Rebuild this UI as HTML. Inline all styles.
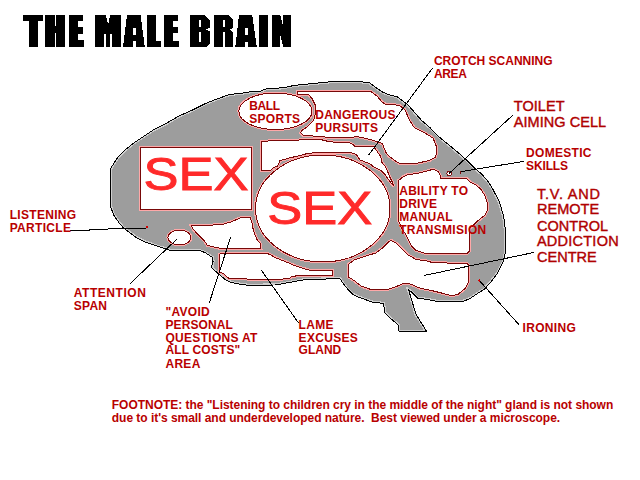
<!DOCTYPE html>
<html><head><meta charset="utf-8">
<style>
html,body{margin:0;padding:0;background:#fff;width:640px;height:480px;overflow:hidden}
svg{position:absolute;left:0;top:0}
path,rect,ellipse,circle,polyline{shape-rendering:crispEdges}
.l{font-family:"Liberation Sans",sans-serif;font-weight:bold;font-size:12px;fill:#b80000;letter-spacing:0.3px}
.fn{font-family:"Liberation Sans",sans-serif;font-weight:bold;font-size:12px;fill:#b80000;letter-spacing:-0.03px}
.m{font-family:"Liberation Sans",sans-serif;font-size:14.5px;fill:#b00000;stroke:#b00000;stroke-width:0.4;letter-spacing:0.05px}
.sex{font-family:"Liberation Sans",sans-serif;font-size:46px;fill:#ff2a2a;stroke:#ff2a2a;stroke-width:0.9}
.rg{fill:#fff;stroke:#b81818;stroke-width:1.2}
.ln{stroke:#000;stroke-width:1;fill:none}
</style></head><body>
<svg width="640" height="480" viewBox="0 0 640 480">
<!-- title -->
<g fill="#000" fill-rule="evenodd">
<path d="M23,15H42.75V21H37.7V47H29.25V21H23Z"/>
<path d="M44.75,15H54.6V26.3H55.7V15H64.7V47H55.7V33H54.6V47H44.75Z"/>
<path d="M69.2,15H83.2V20.7H77.6V26.9H82.7V33.6H77.6V40.4H83.8V47H69.2Z"/>
<path d="M95.2,15H105.9L108.1,24.8L110,15H120.9V47H111.9V33.8H110.4V42.8H110V47H106.1V42.8H105.5V33.8H104V47H95.2Z"/>
<path d="M127,15H140.6L144.8,47H136.4V41H132.7V47H123ZM132.7,27.8H136V34.8H132.7Z"/>
<path d="M147,15H156.1V40.9H161V47H147Z"/>
<path d="M164,15H177.9V20.6H172.6V27H177.5V32.6H172.6V40.9H179V47H164Z"/>
<path d="M190.1,15H204.4L210,20.25V27.4L205.9,29.6L210,31.5V43.5L206.25,47H190.1ZM198.75,19.9H201V26.6H198.75ZM198.75,32.25H201V42H198.75Z"/>
<path d="M214,15H228.25L232.75,18.75V28.1L230.5,29.5L232.75,31.9V47H224.9V32.25H223V47H214ZM223,20.25H224.9V26.6H223Z"/>
<path d="M239,15H252.2L256.8,47H247.5V41.9H244.7V47H235.3ZM244.7,27.8H247.5V34.8H244.7Z"/>
<path d="M259.2,15H268.1V47H259.2Z"/>
<path d="M272.3,15H280.3L283.1,26.5V15H291V47H283.1L280,33.5V47H272.3Z"/>
</g>
<!-- brain outer -->
<defs><path id="bp" d="
M110.5,206.7 L110.5,168.75 L114.6,162.2 L118.3,156.7 L125,150 L133.3,143.3 L143.3,136.7 L153.3,130 L165,124.2 L173.3,119.2 L180,115.6 L192.5,110 L205,103.75 L217.5,98.75 L230,94.4 L242.5,93.1 L250,91.9 L260,91.25 L266.25,88.75 L283.1,87.8 L294.4,85.4 L316.9,83.1 L331.9,81.6 L360,81.6 L369.4,82.75 L375,86.9 L382.9,92.2 L389.4,94.8 L397.1,96.7 L402.3,100.6 L407.5,104.5 L413.9,111.6 L421.7,120.6 L429.4,127.1 L440,137.7 L450,145.8 L460,154.2 L468.3,161.7 L475,168.3 L481.7,174.2 L488.3,181.7 L493.3,190 L499.6,202.5 L503.75,217 L505.8,233.75 L505.8,250.4 L503.75,260.8 L497.5,273.3 L490,283 L484,289.5 L479.4,292.3 L470,298.6 L462.2,301.7 L440,302 L426.8,299.4 L417.4,298 L410.6,291.25 L408.6,289.9 L416,314.25 L426.8,331.8 L399.1,331.8 L398.4,325.1 L390.3,318.3 L384.9,312.9 L383.5,303.4 L372.2,302 L357,296.6 L352.5,294 L346.25,287.5 L342.5,282.5 L340,278.75 L306.25,279.4 L292.5,281.9 L275,285 L247.5,285.25 L237.5,283.75 L231.25,282.5 L225,279.4 L221.25,276.25 L216.25,271.9 L211.9,268.1 L211.9,265 L213.1,261.25 L212.5,257.5 L205,252.5 L200,250.8 L171.25,250.6 L167.5,249.4 L157.5,246.25 L145,241.9 L136.25,237.5 L126.25,230 L123.3,227.8 L119,222.7 L113.9,215.4 Z"/><clipPath id="bclip"><use href="#bp"/></clipPath></defs>
<use href="#bp" fill="#9d9d9d"/>
<use href="#bp" fill="none" stroke="#cfcfcf" stroke-width="3.2" clip-path="url(#bclip)"/>
<use href="#bp" fill="none" stroke="#000" stroke-width="1"/>
<defs><g id="regs">
<rect x="140.5" y="147.5" width="111" height="62"/>
<ellipse cx="275.4" cy="111.25" rx="36.6" ry="18.25"/>
<path d="M297.4,91.9 L370.3,91.2 L376.9,95.9 L382.5,102.5 L385.3,104 L399.3,105.3 L405,110 L409.6,120.3 L414.3,127.8 L423.7,132.4 L433,138 L436.8,147.4 L435.8,156.8 L429.3,160.5 L416.2,163.4 L400,163.75 L395,160.6 L390,156.9 L386.25,153.1 L384.4,148.75 L382.5,143.75 L376.25,141.25 L367.5,138.75 L358.75,136.9 L330.6,137.5 L317,136.2 L303.5,135.5 L300.8,132.8 L301.5,130.7 L307.6,126.7 L313.7,120.6 L315.7,112.5 L315,104.4 L312.3,99 L308.3,94.2 L297.4,94.2 Z"/>
<path d="M261.9,141.25 L277.5,140.6 L308.75,139.75 L322.5,140 L330,141.9 L348.75,142.5 L353.75,145 L355,146.9 L373.75,146.9 L376.25,150 L378.1,153.1 L380.6,156.25 L381.9,162.5 L385,166.25 L387.5,171.25 L390,177.5 L392.5,182.5 L393.75,186.25 L388.75,180 L385,174.4 L381.25,170.6 L373.75,166.9 L370,163.75 L360,160 L356.25,154.4 L350,152.5 L330,152.5 L308.75,153.1 L300,155.6 L291.25,157.5 L280,160.6 L277.5,166.25 L273.75,167.5 L270,170.6 L261.9,170.6 Z"/>
<ellipse cx="322.75" cy="208.5" rx="67.25" ry="53.5"/>
<ellipse cx="179.4" cy="237.5" rx="11.4" ry="7.5"/>
<path d="M191.3,225.8 L221.7,224.7 L231.7,221.7 L240,218 L250,217.5 L251.7,221.7 L253.3,230 L256.7,239.2 L260.8,244.2 L261,248.3 L220,248.3 L207.5,245.5 L205,241.7 L198.3,235 L193.3,229.2 Z"/>
<path d="M219.4,254.4 L222.5,253.1 L265,253.1 L270,254.4 L275,257.5 L287.5,262.5 L296.25,266.25 L308.75,270 L332.5,270.6 L332.5,275.6 L297.5,275.6 L291.25,276.9 L288.75,278.75 L275,279.4 L229.4,278.75 L226.9,276.9 L223.75,273.75 L219.4,271.9 Z"/>
<path d="M398.3,180.8 L403.3,176.7 L406.7,175 L421.7,172.5 L433.3,169.2 L438.3,171.7 L440,175 L440.8,178.5 L455,178.5 L466.7,178.5 L470.8,182.5 L475.8,185 L480.8,189.2 L485,195.8 L487.5,203.3 L487.5,210 L485,215 L476.7,221.7 L470,228.3 L469,231.25 L469,251.6 L467.5,253.1 L424.4,253.1 L416,250.3 L411.7,246.1 L406.1,234.8 L401.7,228.3 L398.3,220 Z"/>
<path d="M348.4,264.3 L354.1,260.1 L368.1,255.2 L375.9,253.1 L382.2,248.2 L387.8,242.5 L391.3,240.4 L396.25,243.25 L401.9,248.9 L407.5,254.5 L416,259.4 L430,261.5 L430.9,262.7 L466.9,263.4 L468.4,265 L468.4,282.2 L465.3,288.4 L457.5,294.7 L451.25,295.5 L441.9,293.1 L429.4,290 L420.2,288.25 L410.3,284 L403.3,283.3 L399.1,285.4 L389.2,289 L369.5,289 L361.1,286.1 L354.1,280.5 L348.4,277 Z"/>
</g></defs>
<use href="#regs" fill="#fff" stroke="#ffa8a8" stroke-width="3"/>
<use href="#regs" fill="#fff" stroke="none"/>
<use href="#regs" fill="none" stroke="#780808" stroke-width="1"/>
<!-- SEX rect -->
<text class="sex" x="143.5" y="189.6" transform="translate(143.5 0) scale(1.14 1) translate(-143.5 0)">SEX</text>
<!-- ball sports -->
<!-- dangerous + crotch blob -->
<!-- strip above circle -->
<!-- SEX circle -->
<text class="sex" x="267.25" y="223.75" transform="translate(267.25 0) scale(1.14 1) translate(-267.25 0)">SEX</text>
<!-- attention oval -->
<!-- avoid region -->
<!-- lame region -->
<!-- ability region -->
<!-- TV region -->
<!-- toilet circle, domestic marker -->
<circle cx="449.2" cy="173.3" r="2.3" fill="#fff" stroke="#801010" stroke-width="1"/>
<path d="M460.2,171.25H462.2V172.25H461.2V173.6H460.2Z" fill="#780808"/>
<!-- leader lines -->
<polyline class="ln" points="70,230.5 89,230.5 89,229.5 147,228"/>
<circle cx="147" cy="227" r="1.2" fill="#d00000"/>
<polyline class="ln" points="130,283.75 177,239"/>
<polyline class="ln" points="209.4,302.5 230.8,236.7"/>
<polyline class="ln" points="298.4,322.8 261.25,270"/>
<polyline class="ln" points="432.5,68 368.75,155"/>
<polyline class="ln" points="513,115 449.2,173.3"/>
<polyline class="ln" points="524.4,161.25 460.8,171.7"/>
<polyline class="ln" points="533.75,252.5 424,275.5"/>
<polyline class="ln" points="519,324.7 479.25,280.5"/>
<circle cx="479.25" cy="280.5" r="1.2" fill="#d00000"/>
<!-- labels -->
<text class="l" style="letter-spacing:-0.4px" x="249.2" y="109.5">BALL</text>
<text class="l" x="249.2" y="122.5">SPORTS</text>
<text class="l" x="315.2" y="118.75">DANGEROUS</text>
<text class="l" x="315.2" y="132">PURSUITS</text>
<text class="l" x="433.9" y="65" style="letter-spacing:0">CROTCH SCANNING</text>
<text class="l" x="433.9" y="78.1" style="letter-spacing:-0.3px">AREA</text>
<text class="m" x="513.75" y="111.25">TOILET</text>
<text class="m" x="513.75" y="126.9">AIMING CELL</text>
<text class="l" x="526.1" y="157.2">DOMESTIC</text>
<text class="l" style="letter-spacing:-0.15px" x="526.1" y="170">SKILLS</text>
<text class="l" x="399.2" y="195">ABILITY TO</text>
<text class="l" x="399.2" y="207.5">DRIVE</text>
<text class="l" x="399.2" y="220.5">MANUAL</text>
<text class="l" x="399.2" y="233.75">TRANSMISION</text>
<text class="m" x="536.9" y="198.75" style="letter-spacing:0.8px">T.V. AND</text>
<text class="m" x="536.9" y="214.4">REMOTE</text>
<text class="m" x="536.9" y="230.6">CONTROL</text>
<text class="m" x="536.9" y="246.25" style="letter-spacing:0.25px">ADDICTION</text>
<text class="m" x="536.9" y="261.9">CENTRE</text>
<text class="l" x="9.7" y="218.75">LISTENING</text>
<text class="l" x="9.7" y="231.75">PARTICLE</text>
<text class="l" style="letter-spacing:0.55px" x="73.7" y="297">ATTENTION</text>
<text class="l" x="73.7" y="310">SPAN</text>
<text class="l" x="165.45" y="315.6">"AVOID</text>
<text class="l" style="letter-spacing:0.1px" x="165.45" y="328.75">PERSONAL</text>
<text class="l" x="165.45" y="341.9">QUESTIONS AT</text>
<text class="l" style="letter-spacing:0.15px" x="165.45" y="354.4">ALL COSTS"</text>
<text class="l" x="165.45" y="367.5">AREA</text>
<text class="l" x="298.6" y="328.75">LAME</text>
<text class="l" x="298.6" y="341.9">EXCUSES</text>
<text class="l" style="letter-spacing:0px" x="298.6" y="354.4">GLAND</text>
<text class="l" x="522.6" y="331.9">IRONING</text>
<text class="fn" x="111.8" y="408.8">FOOTNOTE: the "Listening to children cry in the middle of the night" gland is not shown</text>
<text class="fn" x="111.8" y="421.7" style="white-space:pre;letter-spacing:-0.035px">due to it's small and underdeveloped nature.  Best viewed under a microscope.</text>
</svg>
</body></html>
